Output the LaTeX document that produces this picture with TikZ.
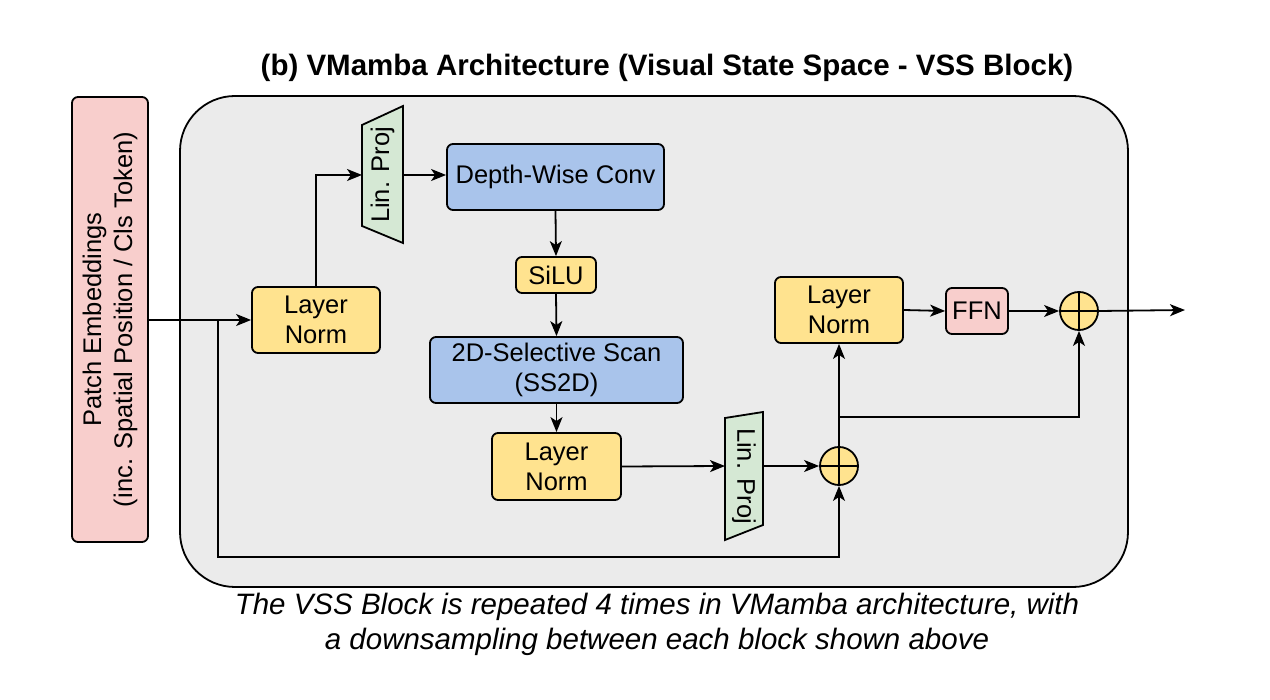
\documentclass[tikz,border=0pt]{standalone}
\usepackage{fontspec}
\setmainfont{Liberation Sans}
\usetikzlibrary{arrows.meta}
\definecolor{bgc}{HTML}{EBEBEB}
\definecolor{yel}{HTML}{FFE38F}
\definecolor{blu}{HTML}{A9C4EB}
\definecolor{grn}{HTML}{D5E8D4}
\definecolor{pnk}{HTML}{F8CECC}
\begin{document}
\begin{tikzpicture}[x=1pt,y=-1pt,line width=1.8pt,
  box/.style={draw,rounded corners=6pt,align=center,inner sep=0pt,font=\fontsize{25.5}{30}\selectfont},
  arr/.style={-{Stealth[length=15pt,width=12pt,inset=4pt]}},
  plus/.style={draw,circle,fill=yel,minimum size=38pt,inner sep=0pt}]
\useasboundingbox (0,0) rectangle (1270,700);
\node[font=\fontsize{29.5}{34}\selectfont\bfseries] (title) at (667,68) {(b) VMamba Architecture (Visual State Space - VSS Block)};
\draw[fill=bgc,rounded corners=55pt] (180,96) rectangle (1128,587);
\node[box,fill=pnk,minimum width=76pt,minimum height=445pt] (pe) at (110,319.5) {};
\node[rotate=90,align=center,font=\fontsize{25.5}{31}\selectfont] at (pe.center) {Patch Embeddings\\(inc. Spatial Position / Cls Token)};
\node[box,fill=yel,minimum width=128pt,minimum height=66pt] (ln1) at (316,320) {Layer\\Norm};
\draw[fill=grn] (362,125) -- (403,106) -- (403,243) -- (362,226) -- cycle;
\coordinate (lp1w) at (362,175); \coordinate (lp1e) at (403,175);
\node[rotate=90,font=\fontsize{25.5}{30}\selectfont] (lp1) at (382.5,175) {Lin. Proj};
\node[box,fill=blu,minimum width=217pt,minimum height=66pt] (dw) at (555.5,177) {Depth-Wise Conv};
\node[box,fill=yel,minimum width=80pt,minimum height=36pt] (silu) at (556,275) {SiLU};
\node[box,fill=blu,minimum width=253pt,minimum height=66pt] (ss) at (556.5,370) {2D-Selective Scan\\(SS2D)};
\node[box,fill=yel,minimum width=129pt,minimum height=67pt] (ln2) at (556.5,466.5) {Layer\\Norm};
\draw[fill=grn] (725,418) -- (763,412) -- (763,525) -- (725,540) -- cycle;
\coordinate (lp2w) at (725,466); \coordinate (lp2e) at (763,466);
\node[rotate=-90,font=\fontsize{25.5}{30}\selectfont] (lp2) at (744,476) {Lin. Proj};
\node[plus] (p1) at (839,466) {};
\draw[line width=1.5pt] (p1.north)--(p1.south) (p1.west)--(p1.east);
\node[box,fill=yel,minimum width=128pt,minimum height=66pt] (ln3) at (839,310) {Layer\\Norm};
\node[box,fill=pnk,minimum width=62pt,minimum height=46pt] (ffn) at (977,311) {FFN};
\node[plus] (p2) at (1079,311) {};
\draw[line width=1.5pt] (p2.north)--(p2.south) (p2.west)--(p2.east);
\coordinate (out) at (1185,310);
\coordinate (br) at (218,320);
\draw[arr] (pe.east |- ln1) -- (ln1.west);
\draw[arr] (br) -- (218,557) -- (p1.south |- 0,557) -- (p1.south);
\draw[arr] (ln1.north) -- (316,175) -- (lp1w);
\draw[arr] (lp1e) -- (dw.west |- lp1e);
\draw[arr] (dw.south) -- (silu.north);
\draw[arr] (silu.south) -- (ss.north);
\draw[arr] (ss.south) -- (ln2.north);
\draw[arr] (ln2.east) -- (lp2w);
\draw[arr] (lp2e) -- (p1.west);
\draw[arr] (p1.north) -- (ln3.south);
\draw[arr] (839,417) -- (1079,417) -- (p2.south);
\draw[arr] (ln3.east) -- (ffn.west);
\draw[arr] (ffn.east) -- (p2.west);
\draw[arr] (p2.east) -- (out);
\node[font=\fontsize{29.5}{35}\selectfont\itshape,align=center] (cap) at (657,624) {The VSS Block is repeated 4 times in VMamba architecture, with\\a downsampling between each block shown above};
\end{tikzpicture}
\end{document}
